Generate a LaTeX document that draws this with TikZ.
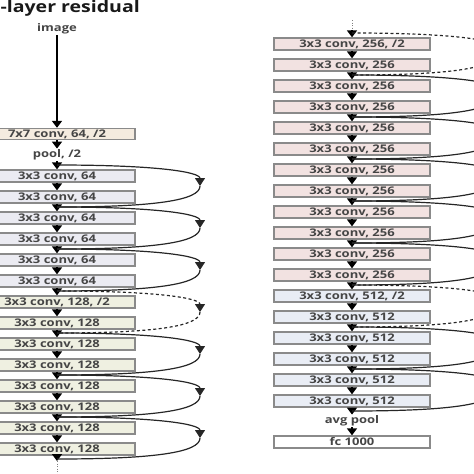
\documentclass[tikz,border=0pt]{standalone}
\usepackage{fontspec}
\setmainfont{Open Sans}
\usepackage{graphicx}
\usetikzlibrary{arrows.meta,calc}
\definecolor{bordc}{HTML}{8A8A8A}
\definecolor{txtc}{HTML}{454545}
\definecolor{csev}{HTML}{F4EBDF}
\definecolor{csixf}{HTML}{EBEBF2}
\definecolor{conetw}{HTML}{EFF0E1}
\definecolor{ctwof}{HTML}{F2E2E1}
\definecolor{cfive}{HTML}{E9EDF5}
\newcommand{\wtxt}[1]{\scalebox{1.24}[1]{#1}}
\newcommand{\skipc}[3]{%
  \path let \p1=(#1), \p2=(#2) in coordinate (apx) at ({\x1+143pt},{0.5*\y1+0.5*\y2});
  \draw[skiptip,#3] (#1) .. controls +(100,0) and +(0,-14) .. (apx);
  \draw[skipline,#3] (apx) .. controls +(0,14) and +(100,0) .. (#2);}
\begin{document}
\begin{tikzpicture}[x=1pt,y=-1pt,
  box/.style={draw=bordc, line width=1.4pt, minimum width=156pt, minimum height=12pt,
    inner sep=0pt, text=txtc, font=\bfseries\fontsize{10.5}{12}\selectfont},
  lbl/.style={inner sep=1pt, text=txtc, font=\bfseries\fontsize{10.5}{12}\selectfont},
  main/.style={line width=1.8pt, -{Triangle[width=10pt,length=7pt]}},
  skipline/.style={line width=1.2pt, draw=black!85},
  skiptip/.style={skipline, -{Triangle[width=10pt,length=8pt]}},
  dsh/.style={dash pattern=on 3pt off 2.5pt},
  dots/.style={draw=gray, line width=0.8pt, dash pattern=on 1pt off 1.5pt}
]
\useasboundingbox (0,0) rectangle (474,474);
\clip (0,0) rectangle (474,474);

% title
\node[anchor=base east, inner sep=0pt, text=black!90,
  font=\bfseries\fontsize{16}{18}\selectfont] (title) at (140,12) {\scalebox{1.22}[1]{-layer residual}};

% ---------------- left column ----------------
\node[lbl] (image) at (57,29) {\wtxt{image}};
\node[box, fill=csev, minimum height=11pt] (L7x7) at (57,134) {\wtxt{7x7 conv, 64, /2}};
\node[lbl] (pool) at (57,155) {\wtxt{pool, /2}};
\foreach \i in {0,...,5}
  \node[box, fill=csixf] (L\i) at (57,{176+21*\i}) {\wtxt{3x3 conv, 64}};
\node[box, fill=conetw] (L6) at (57,{176+21*6}) {\wtxt{3x3 conv, 128, /2}};
\foreach \i in {7,...,13}
  \node[box, fill=conetw] (L\i) at (57,{176+21*\i}) {\wtxt{3x3 conv, 128}};
\foreach \i in {0,...,14}
  \coordinate (jL\i) at (57,{165+21*\i});
\coordinate (Lend) at (57,461);
\coordinate (Ldots) at (57,474);

\draw[main] (image.south) -- (L7x7.north);
\draw[main] (L7x7.south) -- (pool.north);
\draw[main] (pool.south) -- (L0.north);
\foreach \i in {0,...,12}{
  \pgfmathtruncatemacro\j{\i+1}
  \draw[main] (L\i.south) -- (L\j.north);
}
\draw[main] (L13.south) -- (Lend);
\draw[dots] (Lend) -- (Ldots);

\skipc{jL0}{jL2}{}
\skipc{jL2}{jL4}{}
\skipc{jL4}{jL6}{}
\skipc{jL6}{jL8}{dsh}
\skipc{jL8}{jL10}{}
\skipc{jL10}{jL12}{}
\skipc{jL12}{jL14}{}

% ---------------- right column ----------------
\node[box, fill=ctwof] (R0) at (352,44) {\wtxt{3x3 conv, 256, /2}};
\foreach \i in {1,...,11}
  \node[box, fill=ctwof] (R\i) at (352,{44+21*\i}) {\wtxt{3x3 conv, 256}};
\node[box, fill=cfive] (R12) at (352,{44+21*12}) {\wtxt{3x3 conv, 512, /2}};
\foreach \i in {13,...,17}
  \node[box, fill=cfive] (R\i) at (352,{44+21*\i}) {\wtxt{3x3 conv, 512}};
\node[lbl] (avg) at (352,421) {\wtxt{avg pool}};
\node[box, fill=white] (fc) at (352,442) {\wtxt{fc 1000}};
\foreach \i in {0,...,18}
  \coordinate (jR\i) at (352,{33+21*\i});
\coordinate (Rtop) at (352,20);
\coordinate (Rin) at (352,30);

\draw[dots] (Rtop) -- (Rin);
\draw[main] (Rin) -- (R0.north);
\foreach \i in {0,...,16}{
  \pgfmathtruncatemacro\j{\i+1}
  \draw[main] (R\i.south) -- (R\j.north);
}
\draw[main] (R17.south) -- (avg.north);
\draw[main] (avg.south) -- (fc.north);

\skipc{jR0}{jR2}{dsh}
\skipc{jR2}{jR4}{}
\skipc{jR4}{jR6}{}
\skipc{jR6}{jR8}{}
\skipc{jR8}{jR10}{}
\skipc{jR10}{jR12}{}
\skipc{jR12}{jR14}{dsh}
\skipc{jR14}{jR16}{}
\skipc{jR16}{jR18}{}
\end{tikzpicture}
\end{document}
